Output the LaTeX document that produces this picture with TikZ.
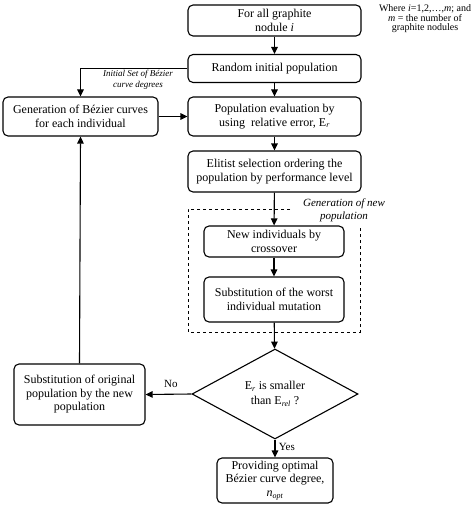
\documentclass[tikz,border=0pt]{standalone}
\usepackage{fontspec}
\setmainfont{Liberation Serif}
\usetikzlibrary{shapes.geometric,arrows.meta}
\begin{document}
\begin{tikzpicture}[x=1pt,y=-1pt,
  box/.style={draw,line width=1.1pt,rounded corners=5pt,align=center,inner sep=1pt,
    font=\fontsize{12}{13.5}\selectfont},
  arr/.style={line width=1.1pt,-{Triangle[length=7pt,width=6.5pt]}},
  lab/.style={font=\fontsize{9}{11}\selectfont\itshape,align=center,inner sep=0pt}]
\useasboundingbox (0,0) rectangle (474,508);
\node[box,minimum width=173pt,minimum height=31pt] (b1) at (274.5,20.5) {For all graphite\\nodule \textit{i}};
\node[box,minimum width=173pt,minimum height=28pt] (b2) at (274.5,68.5) {Random initial population};
\node[box,minimum width=173pt,minimum height=39pt] (b3) at (274.5,116.5) {Population evaluation by\\using\ \ relative error, E\textsubscript{\textit{r}}};
\node[box,minimum width=155pt,minimum height=39pt] (b4) at (80.5,116.5) {Generation of Bézier curves\\for each individual};
\node[box,minimum width=173pt,minimum height=41pt] (b5) at (274.5,171.5) {Elitist selection ordering the\\population by performance level};
\node[box,minimum width=140pt,minimum height=31pt] (b6) at (274,241.5) {New individuals by\\crossover};
\node[box,minimum width=140pt,minimum height=45pt] (b7) at (274,299.5) {Substitution of the worst\\individual mutation};
\node[draw,line width=1.1pt,diamond,aspect=1.84,minimum width=166pt,minimum height=90pt,inner sep=0pt,align=center,
  font=\fontsize{12}{15.5}\selectfont] (d) at (275,394) {E\textsubscript{\textit{r}} is smaller\\than E\textsubscript{\textit{rel}} ?};
\node[box,minimum width=131pt,minimum height=61pt] (b8) at (79.5,394.5) {Substitution of original\\population by the new\\population};
\node[box,minimum width=116pt,minimum height=45pt] (b9) at (275,480.5) {Providing optimal\\Bézier curve degree,\\\textit{n}\textsubscript{\textit{opt}}};
% dashed group
\draw[line width=0.9pt,dash pattern=on 3pt off 3pt] (290,209) -- (188,209) -- (188,332) -- (360,332) -- (360,228);
\node[font=\fontsize{11}{13}\selectfont\itshape,align=center,inner sep=0pt] (glab) at (344,210) {Generation of new\\population};
% note
\node[font=\fontsize{10}{9.5}\selectfont,align=center,inner sep=0pt] (note) at (425,19) {Where \textit{i}=1,2,\ldots,\textit{m}; and\\\textit{m} = the number of\\graphite nodules};
% connectors
\draw[arr] (b1) -- (b2);
\draw[arr] (b2) -- (b3);
\draw[arr] (b3) -- (b5);
\draw[arr] (b5) -- (b6);
\draw[arr] (b6) -- (b7);
\draw[arr] (b7) -- (d);
\draw[arr] (b4) -- (b3);
\draw[arr] (b2.west) -| (b4.north);
\node[lab] (ilab) at (138,80) {Initial Set of Bézier\\curve degrees};
\draw[arr] (d.west) -- node[above=3pt,font=\fontsize{11}{12}\selectfont,pos=0.45] (no) {No} (b8.east);
\draw[arr] (b8.north) -- (b4.south);
\draw[arr] (d.south) -- node[right=0pt,font=\fontsize{11}{12}\selectfont,pos=0.4] (yes) {Yes} (b9.north);
\end{tikzpicture}
\end{document}
